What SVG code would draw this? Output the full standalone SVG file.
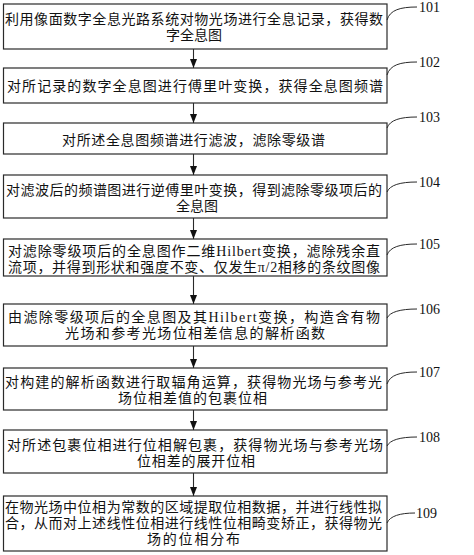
<svg xmlns="http://www.w3.org/2000/svg" width="474" height="555" viewBox="0 0 474 555">
<style>
.box{fill:#fff;stroke:#2a2a2a;stroke-width:1.2}
.t{font-family:"Noto Sans CJK SC","Noto Sans CJK JP",sans-serif;font-size:14px;fill:#111}
.c{text-anchor:middle}
.lat{font-family:"Liberation Serif",serif}
.lbl{font-family:"Liberation Serif",serif;font-size:14px;fill:#111}
.lead{fill:none;stroke:#2a2a2a;stroke-width:1}
.arr{fill:none;stroke:#2a2a2a;stroke-width:1.1;marker-end:url(#ah)}
</style>
<defs>
<marker id="ah" markerUnits="userSpaceOnUse" markerWidth="10" markerHeight="8" refX="9" refY="3.5" orient="auto">
<path d="M0,0 L9,3.5 L0,7 z" fill="#111"/>
</marker>
</defs>
<rect width="474" height="555" fill="#fff"/>
<g id="connectors">
<path class="arr" d="M193.5,49 V68"/>
<path class="arr" d="M193.5,103 V123"/>
<path class="arr" d="M193.5,154 V175"/>
<path class="arr" d="M193.5,218 V239"/>
<path class="arr" d="M193.5,276 V304"/>
<path class="arr" d="M193.5,346 V368"/>
<path class="arr" d="M193.5,410 V430"/>
<path class="arr" d="M193.5,473 V496"/>
</g>
<g id="n101">
<rect class="box" x="3.5" y="4" width="383.5" height="45"/>
<text class="t" x="5" y="24" textLength="378" lengthAdjust="spacing">利用像面数字全息光路系统对物光场进行全息记录，获得数</text>
<text class="t c" x="194" y="40">字全息图</text>
<path class="lead" d="M387,20 C390,10 400,7 417,7"/>
<text class="lbl" x="419" y="11.5">101</text>
</g>
<g id="n102">
<rect class="box" x="3.5" y="68" width="383.5" height="35"/>
<text class="t" x="7" y="91" textLength="376" lengthAdjust="spacing">对所记录的数字全息图进行傅里叶变换，获得全息图频谱</text>
<path class="lead" d="M387,75 C390,65 400,62 417,62"/>
<text class="lbl" x="419" y="66.5">102</text>
</g>
<g id="n103">
<rect class="box" x="3.5" y="123" width="383.5" height="31"/>
<text class="t" x="62" y="145" textLength="263" lengthAdjust="spacing">对所述全息图频谱进行滤波，滤除零级谱</text>
<path class="lead" d="M387,128 C390,120 400,117 417,117"/>
<text class="lbl" x="419" y="121.5">103</text>
</g>
<g id="n104">
<rect class="box" x="3.5" y="175" width="383.5" height="43"/>
<text class="t" x="6" y="195" textLength="376" lengthAdjust="spacing">对滤波后的频谱图进行逆傅里叶变换，得到滤除零级项后的</text>
<text class="t c" x="197" y="211">全息图</text>
<path class="lead" d="M387,192 C390,185 400,182 417,182"/>
<text class="lbl" x="419" y="186.5">104</text>
</g>
<g id="n105">
<rect class="box" x="3.5" y="239" width="383.5" height="37"/>
<text class="t" x="8" y="256" textLength="372" lengthAdjust="spacing">对滤除零级项后的全息图作二维<tspan class="lat">Hilbert</tspan>变换，滤除残余直</text>
<text class="t" x="8" y="272" textLength="372" lengthAdjust="spacing">流项，并得到形状和强度不变、仅发生<tspan class="lat">π/2</tspan>相移的条纹图像</text>
<path class="lead" d="M387,255 C390,247 400,244 417,244"/>
<text class="lbl" x="419" y="248.5">105</text>
</g>
<g id="n106">
<rect class="box" x="3.5" y="304" width="383.5" height="42"/>
<text class="t" x="8" y="322" textLength="372" lengthAdjust="spacing">由滤除零级项后的全息图及其<tspan class="lat">Hilbert</tspan>变换，构造含有物</text>
<text class="t" x="65" y="338" textLength="260" lengthAdjust="spacing">光场和参考光场位相差信息的解析函数</text>
<path class="lead" d="M387,318 C390,312 400,309 417,309"/>
<text class="lbl" x="419" y="313.5">106</text>
</g>
<g id="n107">
<rect class="box" x="3.5" y="368" width="383.5" height="42"/>
<text class="t" x="5" y="387" textLength="377" lengthAdjust="spacing">对构建的解析函数进行取辐角运算，获得物光场与参考光</text>
<text class="t" x="118" y="403" textLength="149" lengthAdjust="spacing">场位相差值的包裹位相</text>
<path class="lead" d="M387,384 C390,375 400,372 417,372"/>
<text class="lbl" x="419" y="376.5">107</text>
</g>
<g id="n108">
<rect class="box" x="3.5" y="430" width="383.5" height="43"/>
<text class="t" x="7" y="450" textLength="376" lengthAdjust="spacing">对所述包裹位相进行位相解包裹，获得物光场与参考光场</text>
<text class="t" x="137" y="466" textLength="118" lengthAdjust="spacing">位相差的展开位相</text>
<path class="lead" d="M387,446 C390,440 400,437 417,437"/>
<text class="lbl" x="419" y="441.5">108</text>
</g>
<g id="n109">
<rect class="box" x="3.5" y="496" width="383.5" height="55"/>
<text class="t" x="5" y="512" textLength="377" lengthAdjust="spacing">在物光场中位相为常数的区域提取位相数据，并进行线性拟</text>
<text class="t" x="5" y="528" textLength="377" lengthAdjust="spacing">合，从而对上述线性位相进行线性位相畸变矫正，获得物光</text>
<text class="t" x="147" y="544" textLength="93" lengthAdjust="spacing">场的位相分布</text>
<path class="lead" d="M387,523 C390,516 400,513 415,513"/>
<text class="lbl" x="416" y="517.5">109</text>
</g>
</svg>
